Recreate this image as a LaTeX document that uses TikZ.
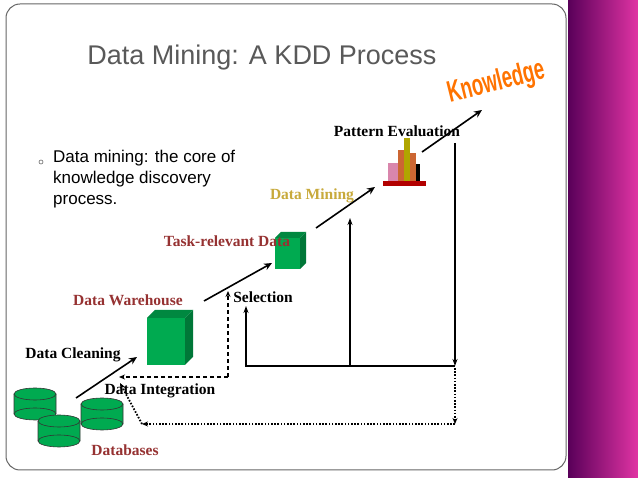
\documentclass[tikz,border=0pt]{standalone}
\usepackage{fontspec}
\setmainfont{Liberation Serif}
\newfontfamily\sans{Liberation Sans}
\usetikzlibrary{arrows.meta,shapes.geometric}
\definecolor{dbgreen}{RGB}{0,170,80}
\definecolor{lblred}{RGB}{150,50,50}
\definecolor{lblyel}{RGB}{200,170,60}
\tikzset{
 lbl/.style={font=\fontsize{15.5}{16}\selectfont\bfseries, inner sep=0pt},
 flow/.style={line width=1.6pt, -{Stealth[length=8pt,width=7pt]}},
 fb/.style={line width=1.5pt, -{Stealth[length=7pt,width=5pt]}},
 dsh/.style={line width=1.2pt, dash pattern=on 4pt off 3pt, -{Stealth[length=6pt,width=5pt]}},
 dot/.style={line width=1.8pt, dash pattern=on 1.6pt off 1.6pt, -{Stealth[length=6pt,width=5pt]}},
}
\newcommand{\mycube}[5]{% x y w h d
 \fill[dbgreen!70!black] (#1+#3,#2) -- ++(#5,-#5) -- ++(0,#4) -- ++(-#5,#5) -- cycle;
 \fill[dbgreen!80!black] (#1,#2) -- ++(#5,-#5) -- ++(#3,0) -- ++(-#5,#5) -- cycle;
 \fill[dbgreen] (#1,#2) rectangle ++(#3,#4);}
\newcommand{\mycyl}[3]{% cx top bottom
 \filldraw[fill=dbgreen, draw=black!80, line width=0.6pt] (#1-21,#2) -- (#1-21,#3) arc[start angle=180,end angle=360,x radius=21pt,y radius=6pt] -- (#1+21,#2);
 \filldraw[fill=dbgreen, draw=black!80, line width=0.6pt] (#1,#2) ellipse[x radius=21pt,y radius=6pt];
 \draw[black!80, line width=0.6pt] (#1-21,#3) arc[start angle=180,end angle=0,x radius=21pt,y radius=6pt];}
\begin{document}
\begin{tikzpicture}[x=1pt,y=-1pt]
\useasboundingbox (0,0) rectangle (638,478);
\fill[white] (0,0) rectangle (638,478);
\fill[left color=violet!70!black, right color=purple!60!magenta!80] (568,0) rectangle (638,478);
\draw[black!60, line width=1pt, rounded corners=14pt] (6,4) rectangle (566,470);
\node[font=\sans\fontsize{27}{30}\selectfont, text=black!65] (title) at (262,58) {Data Mining: A KDD Process};
\node[font=\sans\fontsize{17}{21}\selectfont, align=left, anchor=north west, inner sep=0pt] (bul) at (53,150) {Data mining: the core of\\knowledge discovery\\process.};
\node[circle, draw=black!60, line width=0.6pt, minimum size=4pt, inner sep=0pt] (bdot) at (41,162) {};
\node[font=\sans\bfseries\fontsize{30}{30}\selectfont, text=orange!90!red, rotate=14, xscale=0.62] (know) at (497,83) {Knowledge};
% databases
\mycyl{35}{394}{414}
\mycyl{102}{404}{424}
\mycyl{59}{421}{441}
\node[lbl, text=lblred] (dbl) at (125,450) {Databases};
% cubes
\mycube{147}{318}{38}{47}{8}
\mycube{275}{238}{25}{31}{6}
% bars
\fill[red!70!black] (383,181) rectangle (426,186);
\fill[violet!30!pink] (388,163) rectangle (398,181);
\fill[brown!80!red] (398,150) rectangle (404,181);
\fill[olive!70!yellow] (404,138) rectangle (410,181);
\fill[brown!80!red] (410,153) rectangle (416,181);
\fill[black] (416,164) rectangle (420,181);
% labels
\node[lbl] (clean) at (73,355) {Data Cleaning};
\node[lbl, text=lblred] (dwl) at (128,300) {Data Warehouse};
\node[lbl] (integ) at (160,391) {Data Integration};
\node[lbl] (sel) at (263,297) {Selection};
\node[lbl, text=lblred] (trl) at (227,241) {Task-relevant Data};
\node[lbl, text=lblyel] (dml) at (312,196) {Data Mining};
\node[lbl] (pel) at (397,131) {Pattern Evaluation};
% flow arrows
\coordinate (a1) at (76,398); \coordinate (a2) at (137,357);
\draw[flow] (a1) -- (a2);
\coordinate (b1) at (204,301); \coordinate (b2) at (272,263);
\draw[flow] (b1) -- (b2);
\coordinate (c1) at (316,228); \coordinate (c2) at (375,187);
\draw[flow] (c1) -- (c2);
\coordinate (d1) at (422,152); \coordinate (d2) at (482,110);
\draw[flow] (d1) -- (d2);
% feedback
\coordinate (r1) at (455,143); \coordinate (r2) at (455,366);
\coordinate (l2) at (246,366); \coordinate (l1) at (246,306);
\coordinate (m2) at (350,366); \coordinate (m1) at (350,218);
\draw[fb] (r1) -- (r2);
\draw[fb] (r2) -- (l2) -- (l1);
\draw[fb] (m2) -- (m1);
% dashed
\coordinate (s1) at (228,377); \coordinate (s2) at (228,291); \coordinate (s3) at (119,377);
\draw[dsh] (s1) -- (s2);
\draw[dsh] (s1) -- (s3);
% dotted
\coordinate (t1) at (455,368); \coordinate (t2) at (455,424); \coordinate (t3) at (142,424); \coordinate (t4) at (120,383);
\draw[dot] (t1) -- (t2);
\draw[dot] (t2) -- (t3);
\draw[dot] (t3) -- (t4);
\end{tikzpicture}
\end{document}
